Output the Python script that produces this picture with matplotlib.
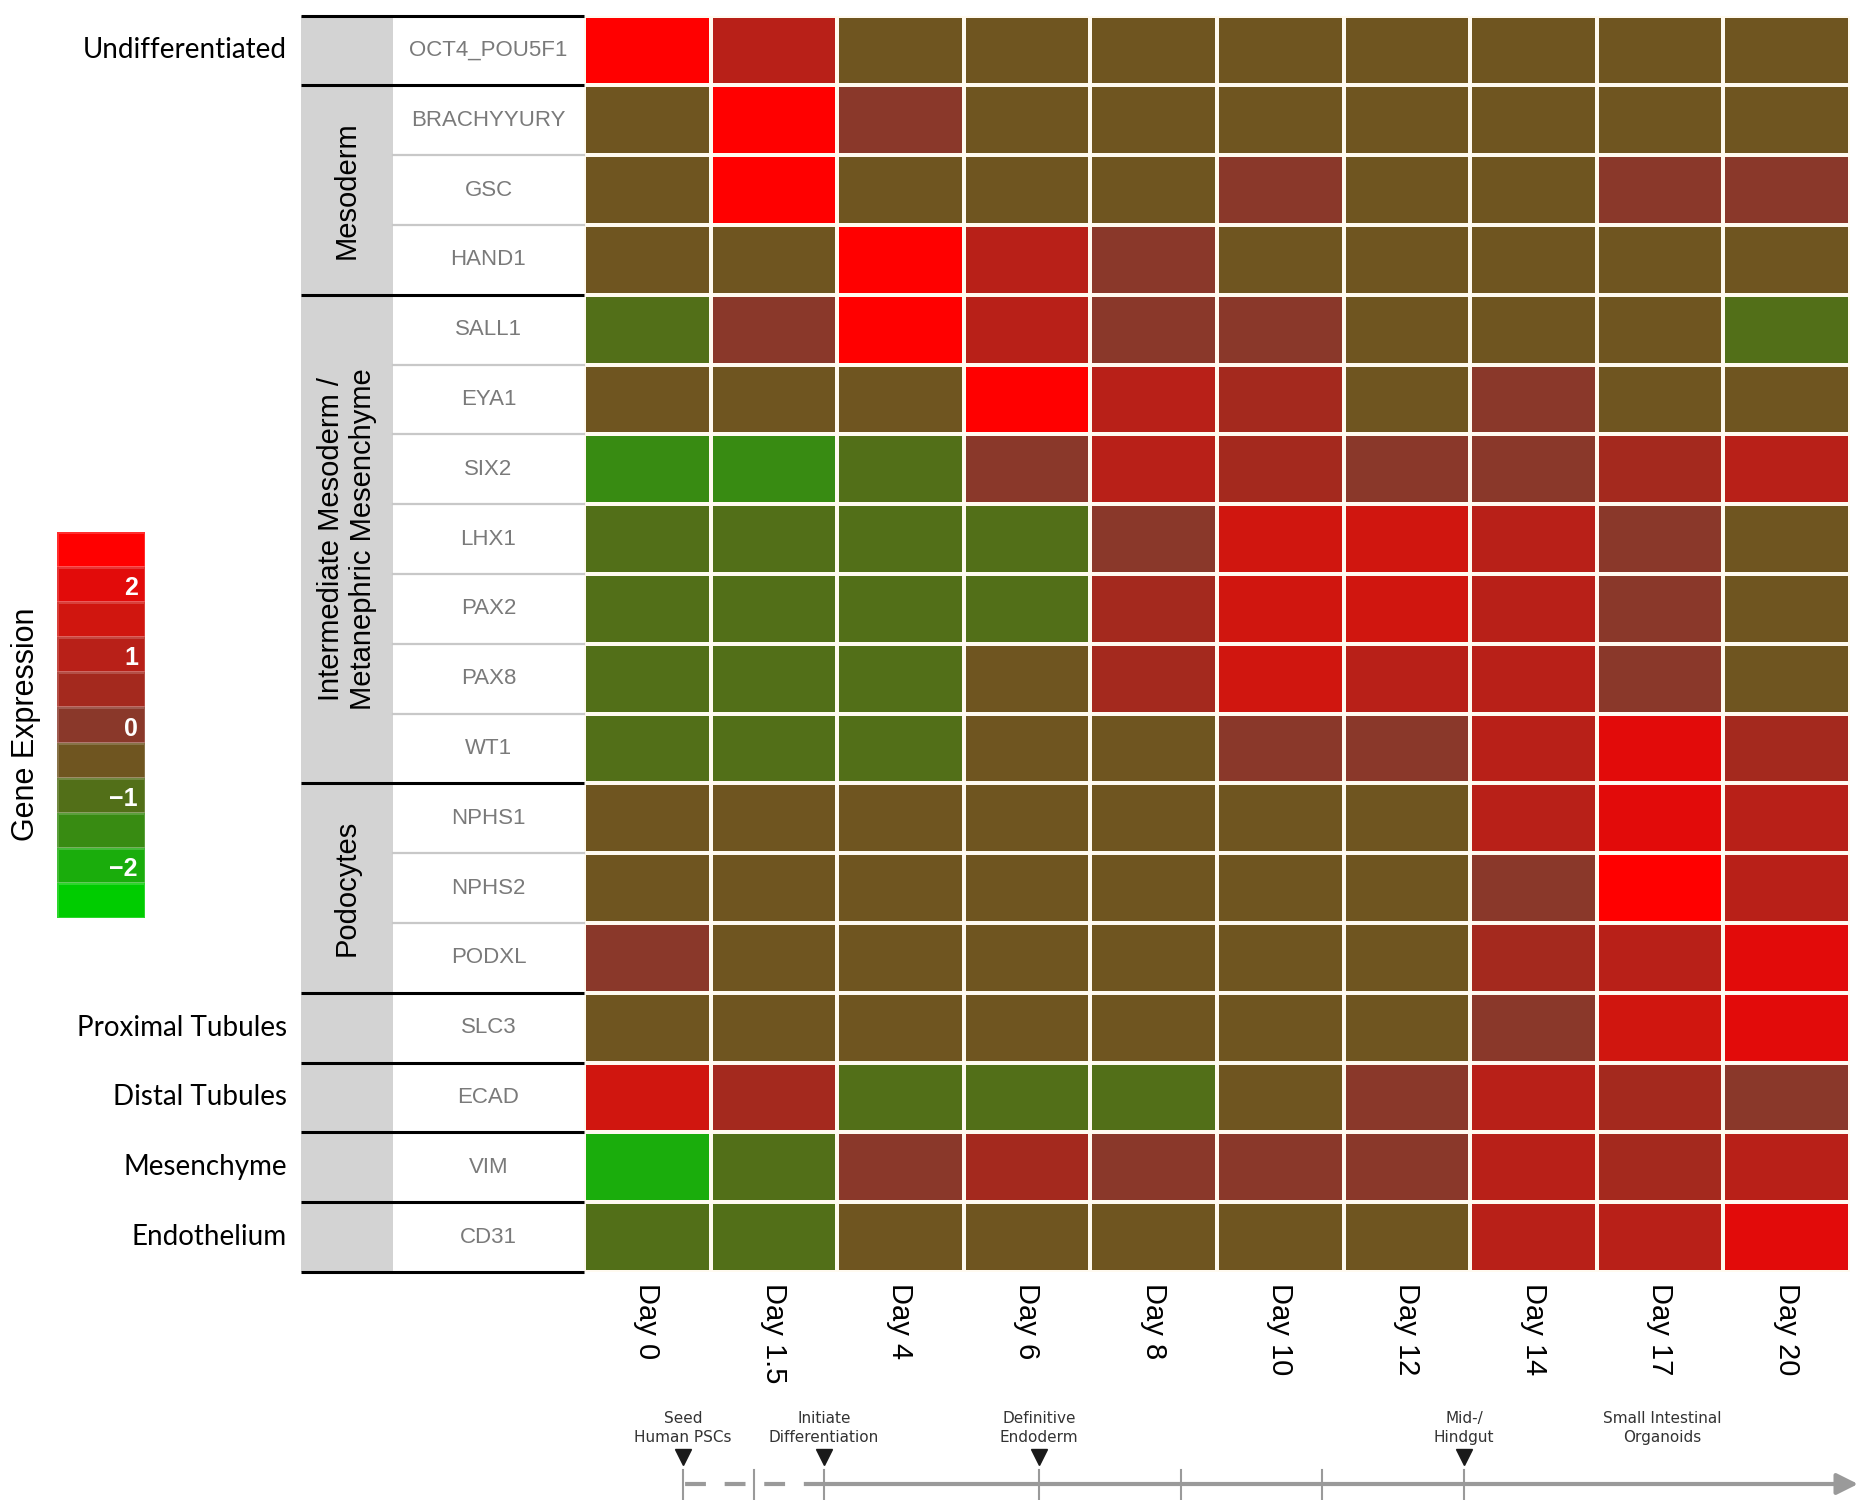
import numpy as np
import matplotlib.pyplot as plt
from matplotlib.colors import ListedColormap, BoundaryNorm

W, H = 1868, 1500

days = ["Day 0", "Day 1.5", "Day 4", "Day 6", "Day 8",
        "Day 10", "Day 12", "Day 14", "Day 17", "Day 20"]

genes = ["OCT4_POU5F1", "BRACHYYURY", "GSC", "HAND1", "SALL1", "EYA1", "SIX2",
         "LHX1", "PAX2", "PAX8", "WT1", "NPHS1", "NPHS2", "PODXL", "SLC3",
         "ECAD", "VIM", "CD31"]

# one row per gene, one value per day
expression = [
    [2.5, 1.0, -0.5, -0.5, -0.5, -0.5, -0.5, -0.5, -0.5, -0.5],   # OCT4_POU5F1
    [-0.5, 2.5, 0.0, -0.5, -0.5, -0.5, -0.5, -0.5, -0.5, -0.5],   # BRACHYYURY
    [-0.5, 2.5, -0.5, -0.5, -0.5, 0.0, -0.5, -0.5, 0.0, 0.0],     # GSC
    [-0.5, -0.5, 2.5, 1.0, 0.0, -0.5, -0.5, -0.5, -0.5, -0.5],    # HAND1
    [-1.0, 0.0, 2.5, 1.0, 0.0, 0.0, -0.5, -0.5, -0.5, -1.0],      # SALL1
    [-0.5, -0.5, -0.5, 2.5, 1.0, 0.5, -0.5, 0.0, -0.5, -0.5],     # EYA1
    [-1.5, -1.5, -1.0, 0.0, 1.0, 0.5, 0.0, 0.0, 0.5, 1.0],        # SIX2
    [-1.0, -1.0, -1.0, -1.0, 0.0, 1.5, 1.5, 1.0, 0.0, -0.5],      # LHX1
    [-1.0, -1.0, -1.0, -1.0, 0.5, 1.5, 1.5, 1.0, 0.0, -0.5],      # PAX2
    [-1.0, -1.0, -1.0, -0.5, 0.5, 1.5, 1.0, 1.0, 0.0, -0.5],      # PAX8
    [-1.0, -1.0, -1.0, -0.5, -0.5, 0.0, 0.0, 1.0, 2.0, 0.5],      # WT1
    [-0.5, -0.5, -0.5, -0.5, -0.5, -0.5, -0.5, 1.0, 2.0, 1.0],    # NPHS1
    [-0.5, -0.5, -0.5, -0.5, -0.5, -0.5, -0.5, 0.0, 2.5, 1.0],    # NPHS2
    [0.0, -0.5, -0.5, -0.5, -0.5, -0.5, -0.5, 0.5, 1.0, 2.0],     # PODXL
    [-0.5, -0.5, -0.5, -0.5, -0.5, -0.5, -0.5, 0.0, 1.5, 2.0],    # SLC3
    [1.5, 0.5, -1.0, -1.0, -1.0, -0.5, 0.0, 1.0, 0.5, 0.0],       # ECAD
    [-2.0, -1.0, 0.0, 0.5, 0.0, 0.0, 0.0, 1.0, 0.5, 1.0],         # VIM
    [-1.0, -1.0, -0.5, -0.5, -0.5, -0.5, -0.5, 1.0, 1.0, 2.0],    # CD31
]

group_names = ["Undifferentiated", "Mesoderm",
               "Intermediate Mesoderm /\nMetanephric Mesenchyme", "Podocytes",
               "Proximal Tubules", "Distal Tubules", "Mesenchyme", "Endothelium"]
group_sizes = [1, 3, 7, 3, 1, 1, 1, 1]

# colour key, low to high
key_levels = [-2.5, -2.0, -1.5, -1.0, -0.5, 0.0, 0.5, 1.0, 1.5, 2.0, 2.5]
key_colors = ["#00cc00", "#1aad0c", "#388b12", "#526f18", "#6f5520", "#8a382a",
              "#a4291e", "#b82018", "#d0160f", "#e20b0a", "#ff0000"]
key_ticks = [2, 1, 0, -1, -2]

stage_labels = ["Seed\nHuman PSCs", "Initiate\nDifferentiation", "Definitive\nEndoderm",
                "Mid-/\nHindgut", "Small Intestinal\nOrganoids"]

SANS = ["Liberation Sans", "DejaVu Sans"]


def main():
    cmap = ListedColormap(key_colors)
    bounds = np.append(np.array(key_levels) - 0.25, key_levels[-1] + 0.25)
    norm = BoundaryNorm(bounds, cmap.N)

    fig = plt.figure(figsize=(W / 100, H / 100), dpi=100)

    # --- heatmap ---
    left, right, top, bottom = 584, 1850, 15.5, 1272
    ax = fig.add_axes([left / W, 1 - bottom / H, (right - left) / W, (bottom - top) / H])
    data = np.array(expression)
    nrow, ncol = data.shape
    ax.pcolormesh(np.arange(ncol + 1), np.arange(nrow + 1), data, cmap=cmap, norm=norm,
                  edgecolors="#fffaf0", linewidth=1.6)
    ax.set_xlim(0, ncol)
    ax.set_ylim(nrow, 0)
    for s in ax.spines.values():
        s.set_visible(False)
    ax.set_yticks([])
    ax.set_xticks(np.arange(ncol) + 0.5)
    ax.set_xticklabels(days, rotation=270, fontsize=21, family=SANS)
    ax.tick_params(axis="x", length=0, pad=8)

    # --- label table to the left (in column units) ---
    col_px = (right - left) / ncol
    x_tab = (301 - left) / col_px
    x_grey = (393 - left) / col_px
    ax.add_patch(plt.Rectangle((x_tab, 0), x_grey - x_tab, nrow, facecolor="#d3d3d3",
                               edgecolor="none", clip_on=False))
    for i, g in enumerate(genes):
        ax.text(x_grey / 2, i + 0.5, g, ha="center", va="center", fontsize=16,
                color="#7a7a7a", family=SANS, clip_on=False)

    start = 0
    ax.plot([x_tab, 0], [0, 0], color="black", lw=2.2, clip_on=False, solid_capstyle="butt")
    for name, size in zip(group_names, group_sizes):
        end = start + size
        for r in range(start + 1, end):
            ax.plot([x_grey, 0], [r, r], color="#c8c8c8", lw=1.6, clip_on=False)
        ax.plot([x_tab, 0], [end, end], color="black", lw=2.2, clip_on=False,
                solid_capstyle="butt")
        mid = (start + end) / 2
        if size == 1:
            ax.text((287 - left) / col_px, mid, name, ha="right", va="center",
                    fontsize=20, family=["Lato", "DejaVu Sans"], clip_on=False)
        else:
            ax.text((x_tab + x_grey) / 2, mid, name, ha="center", va="center",
                    rotation=90, fontsize=21, family=SANS, linespacing=1.15,
                    multialignment="center", clip_on=False)
        start = end

    # --- colour key ---
    cax = fig.add_axes([57 / W, 1 - 918 / H, 88 / W, 386 / H])
    key = np.array(key_levels)[::-1].reshape(-1, 1)
    cax.pcolormesh([0, 1], np.arange(len(key_levels) + 1), key, cmap=cmap, norm=norm,
                   edgecolors=(1, 1, 1, 0.18), linewidth=0.8)
    cax.set_xlim(0, 1)
    cax.set_ylim(len(key_levels), 0)
    cax.axis("off")
    for t in key_ticks:
        row = list(key[:, 0]).index(t)
        lab = str(t) if t >= 0 else "\u2212" + str(-t)
        cax.text(0.92, row + 0.6, lab, ha="right", va="center", color="white",
                 fontsize=18, fontweight="bold", family=SANS)
    fig.text(26 / W, 1 - 724 / H, "Gene Expression", rotation=90, ha="center",
             va="center", fontsize=22, family=SANS)

    # --- timeline along the bottom ---
    ov = fig.add_axes([0, 0, 1, 1], zorder=-1)
    ov.set_xlim(0, W)
    ov.set_ylim(H, 0)
    ov.axis("off")
    grey = "#9a9a9a"
    y_line = 1484
    ov.plot([683, 824], [y_line, y_line], color=grey, lw=3, linestyle=(9, (5, 4.5)))
    ov.annotate("", xy=(1858, y_line), xytext=(824, y_line),
                arrowprops=dict(arrowstyle="-|>", color=grey, lw=3, mutation_scale=32,
                                shrinkA=0, shrinkB=0))
    for tx in [683, 754, 824, 1039, 1181, 1322, 1464]:
        ov.plot([tx, tx], [1470, 1500], color=grey, lw=1.5)
    stage_x = [683, 824, 1039, 1464, 1662]
    for lab, sx in zip(stage_labels, stage_x):
        ov.text(sx, 1428, lab, ha="center", va="center", fontsize=11, color="#333333",
                family=["Liberation Sans Narrow", "DejaVu Sans"], linespacing=1.3)
    for sx in stage_x[:4]:
        ov.plot(sx, 1457, marker="v", markersize=11, color="#1a1a1a")

    fig.savefig("out.png", dpi=100)


if __name__ == "__main__":
    main()
